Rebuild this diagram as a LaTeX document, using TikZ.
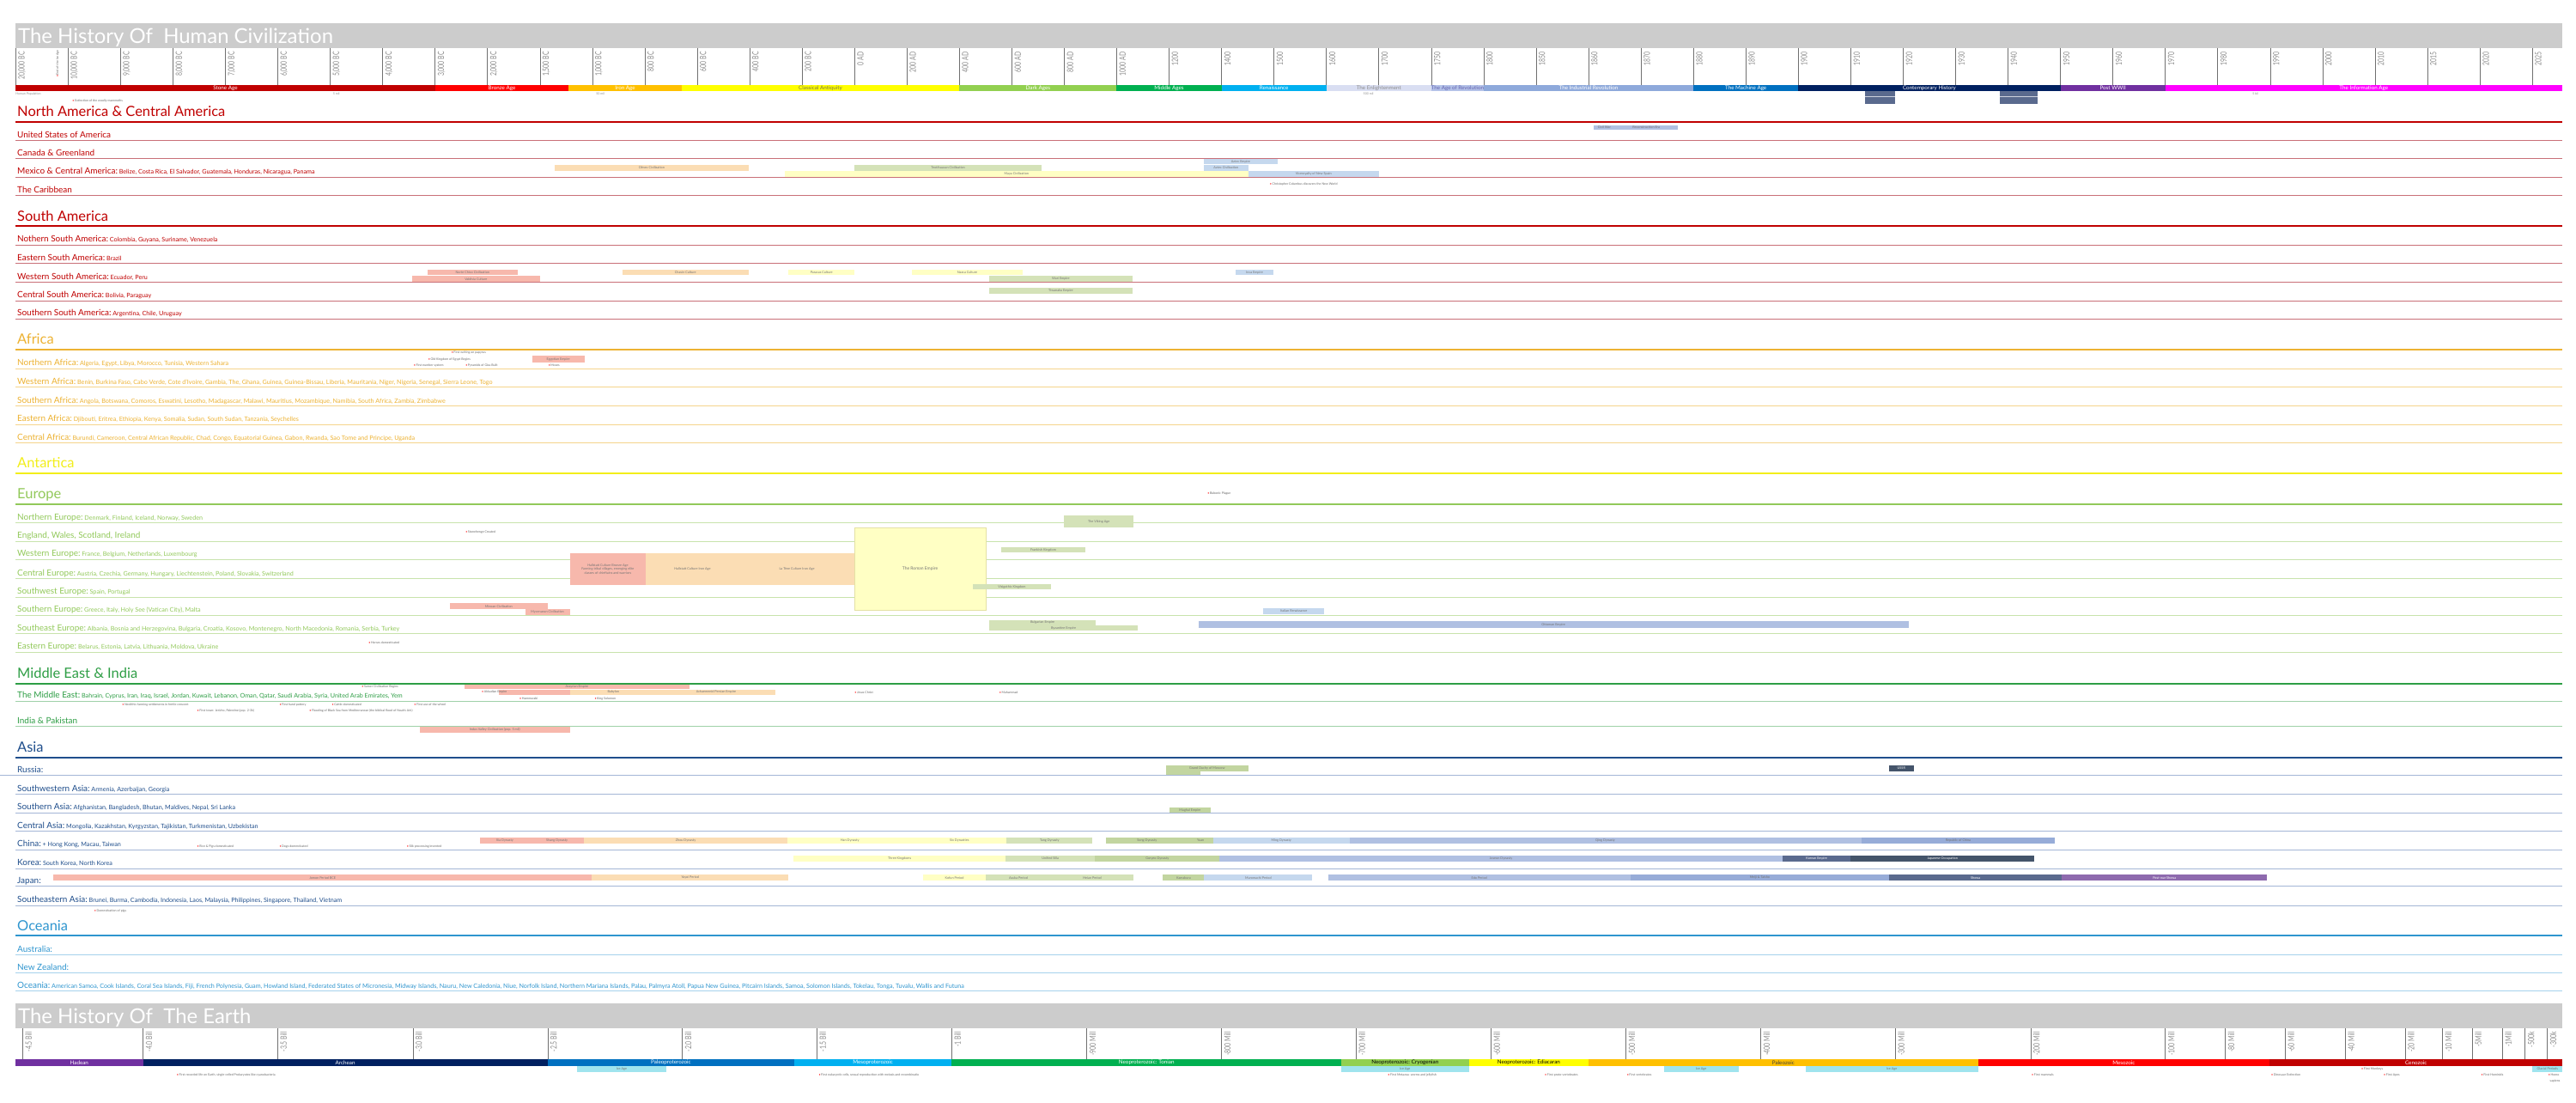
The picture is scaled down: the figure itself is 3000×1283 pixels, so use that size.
\documentclass[tikz,border=0pt]{standalone}
\usepackage{fontspec}
\setmainfont{Lato}
\newfontfamily\tickf[FakeStretch=0.7]{Lato}
\definecolor{bandgray}{HTML}{CCCCCC}
\definecolor{tickgray}{HTML}{707070}
\definecolor{ticktext}{HTML}{8C8C8C}
\definecolor{naC}{HTML}{C00000}
\definecolor{naL}{HTML}{C97078}
\definecolor{afC}{HTML}{EDB232}
\definecolor{afL}{HTML}{F5D48C}
\definecolor{anC}{HTML}{F2EE1A}
\definecolor{euC}{HTML}{92C95A}
\definecolor{euL}{HTML}{C8E3AC}
\definecolor{meC}{HTML}{2E9E45}
\definecolor{meL}{HTML}{9FD1A8}
\definecolor{asC}{HTML}{1F4E8C}
\definecolor{asL}{HTML}{A4B6D6}
\definecolor{ocC}{HTML}{2E95CF}
\definecolor{ocL}{HTML}{A6D2EC}
\definecolor{stoneC}{HTML}{C00000}
\definecolor{bronzeC}{HTML}{FF0000}
\definecolor{ironC}{HTML}{FFC000}
\definecolor{classC}{HTML}{FFFF00}
\definecolor{darkC}{HTML}{92D050}
\definecolor{midC}{HTML}{00B050}
\definecolor{renC}{HTML}{00B0F0}
\definecolor{enlC}{HTML}{D9DEF2}
\definecolor{revC}{HTML}{B4C2E8}
\definecolor{indC}{HTML}{8EA9DB}
\definecolor{machC}{HTML}{0070C0}
\definecolor{contC}{HTML}{002060}
\definecolor{postC}{HTML}{7030A0}
\definecolor{infoC}{HTML}{FF00FF}
\definecolor{iceC}{HTML}{A0E4EE}
\definecolor{bxSalmon}{HTML}{F7B8AC}
\definecolor{bxOrange}{HTML}{FBDDB4}
\definecolor{bxYellow}{HTML}{FFFFC4}
\definecolor{bxGreen}{HTML}{D4E2B8}
\definecolor{bxGreenD}{HTML}{C2D5A0}
\definecolor{bxBlue}{HTML}{C5D8EE}
\definecolor{bxPeri}{HTML}{B0C0E2}
\definecolor{bxPeriD}{HTML}{97ACD8}
\definecolor{bxSlate}{HTML}{5A6A8E}
\definecolor{bxSlateD}{HTML}{44546A}
\definecolor{bxPurple}{HTML}{8E6AAE}
\tikzset{
  ticklab/.style={font=\tickf\fontsize{10}{12}\selectfont, text=ticktext, rotate=90, anchor=north east, inner sep=0},
  eralab/.style={font=\fontsize{6.3}{7}\selectfont, inner sep=0},
  evt/.style={font=\fontsize{3.6}{4}\selectfont, text=black!60, inner sep=0, anchor=west},
  blab/.style={font=\fontsize{3.8}{4.2}\selectfont, text=black!55, inner sep=0, align=center},
  poplab/.style={font=\fontsize{3.6}{4}\selectfont, text=black!45, inner sep=0, anchor=west},
}
\newcommand\rlab{\fontsize{10}{12}\selectfont}
\newcommand\rlist{\fontsize{7.2}{9}\selectfont}
\newcommand\hfont{\fontsize{16.5}{18}\selectfont}
\newcommand\sect[3]{\draw[#2, line width=2] (18.2,#1) -- (2984.2,#1);
  \node[anchor=base west, text=#2, inner sep=0, font=\hfont] at (20,#1-6.3) {#3};}
\newcommand\rowl[5]{\draw[#2, line width=0.9] (18.2,#1) -- (2984.2,#1);
  \node[anchor=base west, text=#3, inner sep=0] at (20,#1-3.2) {\rlab #4\ifx&#5&\else{\rlist\ #5}\fi};}
\newcommand\era[5]{\fill[#3] (#1,98.7) rectangle (#2,106);
  \node[eralab, text=#4] at ({(#1+#2)/2},102.4) {#5};}
\newcommand\bx[6]{\fill[#5] (#1,#3) rectangle (#2,#4);
  \node[blab] at ({(#1+#2)/2},{(#3+#4)/2}) {#6};}
\newcommand\bxw[6]{\fill[#5] (#1,#3) rectangle (#2,#4);
  \node[blab, text=white] at ({(#1+#2)/2},{(#3+#4)/2}) {#6};}
\newcommand\ev[3]{\node[evt] at (#1,#2) {\textcolor{red}{\textbullet}\,#3};}
\newcommand\eera[5]{\fill[#3] (#1,1233.3) rectangle (#2,1240.7);
  \node[eralab, text=#4] at ({(#1+#2)/2},1237) {#5};}
\newcommand\eice[3]{\fill[iceC] (#1,1240.7) rectangle (#2,1247.7);
  \node[blab] at ({(#1+#2)/2},1244.2) {#3};}
\begin{document}
\begin{tikzpicture}[x=1bp,y=-1bp]
\useasboundingbox (0,0) rectangle (3000,1283);
\fill[white] (0,0) rectangle (3000,1283);

% ===== Title band: Human Civilization =====
\fill[bandgray] (18.2,26.7) rectangle (2984.2,55.7);
\node[anchor=base west, inner sep=0, text=white, font=\fontsize{24}{24}\selectfont] (title) at (21,50) {The History Of\ \ Human Civilization};

\begin{scope}[x=61.06bp, xshift=18.2bp]
  \foreach \k in {0,...,48} \draw[tickgray, line width=0.6] (\k,55.7) -- (\k,98.7);
  \foreach \k/\l in {0/{20,000 BC},1/{10,000 BC},2/{9,000 BC},3/{8,000 BC},4/{7,000 BC},5/{6,000 BC},6/{5,000 BC},7/{4,000 BC},8/{3,000 BC},9/{2,000 BC},10/{1,500 BC},11/{1,000 BC},12/{800 BC},13/{600 BC},14/{400 BC},15/{200 BC},16/{0 AD},17/{200 AD},18/{400 AD},19/{600 AD},20/{800 AD},21/{1000 AD},22/1200,23/1400,24/1500,25/1600,26/1700,27/1750,28/1800,29/1850,30/1860,31/1870,32/1880,33/1890,34/1900,35/1910,36/1920,37/1930,38/1940,39/1950,40/1960,41/1970,42/1980,43/1990,44/2000,45/2010,46/2015,47/2020,48/2025}
    \node[ticklab] at ([xshift=3bp]\k,60) {\l};
  \node[evt, rotate=90] at (0.8,90) {\textcolor{red}{\textbullet}\,End of the Ice Age};

  \era{0}{8}{stoneC}{white}{Stone Age}
  \era{8}{10.55}{bronzeC}{white}{Bronze Age}
  \era{10.55}{12.7}{ironC}{white}{Iron Age}
  \era{12.7}{18}{classC}{black!50!yellow!80!black}{Classical Antiquity}
  \era{18}{21}{darkC}{white}{Dark Ages}
  \era{21}{23}{midC}{white}{Middle Ages}
  \era{23}{25}{renC}{white}{Renaissance}
  \era{25}{27}{enlC}{black!45}{The Enlightenment}
  \era{27}{28}{revC}{black!50!blue!60}{The Age of Revolution}
  \era{28}{32}{indC}{white}{The Industrial Revolution}
  \era{32}{34}{machC}{white}{The Machine Age}
  \era{34}{39}{contC}{white}{Contemporary History}
  \era{39}{41}{postC}{white}{Post WWII}
  \era{41}{48.57}{infoC}{white}{The Information Age}

  \node[poplab] at (0,109.5) {Human Population};
  \node[poplab] at (6.05,109.5) {5 mil};
  \node[poplab] at (11.07,109.5) {50 mil};
  \node[poplab] at (25.7,109.5) {500 mil};
  \node[poplab] at (42.66,109.5) {5 bil};
  \ev{1.08}{117}{Extinction of the woolly mammoths}

  \fill[bxSlate] (35.28,106) rectangle (35.85,120.7);
  \draw[white!70!bxSlate, line width=0.8] (35.28,112.3) -- (35.85,112.3);
  \fill[bxSlate] (37.85,106) rectangle (38.57,120.7);
  \draw[white!70!bxSlate, line width=0.8] (37.85,112.3) -- (38.57,112.3);
\end{scope}

% ===== Sections =====
\sect{141.7}{naC}{North America \& Central America}
\rowl{163.3}{naL}{naC}{United States of America}{}
\rowl{184.3}{naL}{naC}{Canada \& Greenland}{}
\rowl{206}{naL}{naC}{Mexico \& Central America:}{Belize, Costa Rica, El Salvador, Guatemala, Honduras, Nicaragua, Panama}
\rowl{227.3}{naL}{naC}{The Caribbean}{}

\sect{263.3}{naC}{South America}
\rowl{285}{naL}{naC}{Nothern South America:}{Colombia, Guyana, Suriname, Venezuela}
\rowl{306.7}{naL}{naC}{Eastern South America:}{Brazil}
\rowl{328.7}{naL}{naC}{Western South America:}{Ecuador, Peru}
\rowl{350}{naL}{naC}{Central South America:}{Bolivia, Paraguay}
\rowl{371}{naL}{naC}{Southern South America:}{Argentina, Chile, Uruguay}

\sect{406.7}{afC}{Africa}
\rowl{429}{afL}{afC}{Northern Africa:}{Algeria, Egypt, Libya, Morocco, Tunisia, Western Sahara}
\rowl{450.7}{afL}{afC}{Western Africa:}{Benin, Burkina Faso, Cabo Verde, Cote d'Ivoire, Gambia, The, Ghana, Guinea, Guinea-Bissau, Liberia, Mauritania, Niger, Nigeria, Senegal, Sierra Leone, Togo}
\rowl{472.3}{afL}{afC}{Southern Africa:}{Angola, Botswana, Comoros, Eswatini, Lesotho, Madagascar, Malawi, Mauritius, Mozambique, Namibia, South Africa, Zambia, Zimbabwe}
\rowl{494}{afL}{afC}{Eastern Africa:}{Djibouti, Eritrea, Ethiopia, Kenya, Somalia, Sudan, South Sudan, Tanzania, Seychelles}
\rowl{515.7}{afL}{afC}{Central Africa:}{Burundi, Cameroon, Central African Republic, Chad, Congo, Equatorial Guinea, Gabon, Rwanda, Sao Tome and Principe, Uganda}

\sect{551}{anC}{Antartica}

\sect{586.7}{euC}{Europe}
\rowl{608.3}{euL}{euC}{Northern Europe:}{Denmark, Finland, Iceland, Norway, Sweden}
\rowl{630}{euL}{euC}{England, Wales, Scotland, Ireland}{}
\rowl{651}{euL}{euC}{Western Europe:}{France, Belgium, Netherlands, Luxembourg}
\rowl{673.3}{euL}{euC}{Central Europe:}{Austria, Czechia, Germany, Hungary, Liechtenstein, Poland, Slovakia, Switzerland}
\rowl{695}{euL}{euC}{Southwest Europe:}{Spain, Portugal}
\rowl{716}{euL}{euC}{Southern Europe:}{Greece, Italy, Holy See (Vatican City), Malta}
\rowl{737.7}{euL}{euC}{Southeast Europe:}{Albania, Bosnia and Herzegovina, Bulgaria, Croatia, Kosovo, Montenegro, North Macedonia, Romania, Serbia, Turkey}
\rowl{759}{euL}{euC}{Eastern Europe:}{Belarus, Estonia, Latvia, Lithuania, Moldova, Ukraine}

\sect{795.7}{meC}{Middle East \& India}
\rowl{816}{meL}{meC}{The Middle East:}{Bahrain, Cyprus, Iran, Iraq, Israel, Jordan, Kuwait, Lebanon, Oman, Qatar, Saudi Arabia, Syria, United Arab Emirates, Yem}
\rowl{845.7}{meL}{meC}{India \& Pakistan}{}

\sect{881.7}{asC}{Asia}
\draw[asL, line width=0.9] (0,902.3) -- (2984.2,902.3);
\node[anchor=base west, text=asC, inner sep=0] at (20,899.1) {\rlab Russia:};
\rowl{924.3}{asL}{asC}{Southwestern Asia:}{Armenia, Azerbaijan, Georgia}
\rowl{946}{asL}{asC}{Southern Asia:}{Afghanistan, Bangladesh, Bhutan, Maldives, Nepal, Sri Lanka}
\rowl{967.3}{asL}{asC}{Central Asia:}{Mongolia, Kazakhstan, Kyrgyzstan, Tajikistan, Turkmenistan, Uzbekistan}
\rowl{989}{asL}{asC}{China:}{+ Hong Kong, Macau, Taiwan}
\rowl{1011}{asL}{asC}{Korea:}{South Korea, North Korea}
\rowl{1031.7}{asL}{asC}{Japan:}{}
\rowl{1054}{asL}{asC}{Southeastern Asia:}{Brunei, Burma, Cambodia, Indonesia, Laos, Malaysia, Philippines, Singapore, Thailand, Vietnam}

\sect{1089.3}{ocC}{Oceania}
\rowl{1111.7}{ocL}{ocC}{Australia:}{}
\rowl{1132.7}{ocL}{ocC}{New Zealand:}{}
\rowl{1153.3}{ocL}{ocC}{Oceania:}{American Samoa, Cook Islands, Coral Sea Islands, Fiji, French Polynesia, Guam, Howland Island, Federated States of Micronesia, Midway Islands, Nauru, New Caledonia, Niue, Norfolk Island, Northern Mariana Islands, Palau, Palmyra Atoll, Papua New Guinea, Pitcairn Islands, Samoa, Solomon Islands, Tokelau, Tonga, Tuvalu, Wallis and Futuna}

% ===== Events =====
\begin{scope}[x=61.06bp, xshift=18.2bp]
  % USA
  \bx{30.1}{30.5}{146}{151}{bxPeri}{Civil War}
  \bx{30.5}{31.7}{146}{151}{bxPeri}{Reconstruction Era}
  % Mexico
  \bx{22.66}{24.07}{184.6}{191.3}{bxBlue}{Aztec Empire}
  \bx{10.28}{13.98}{191.7}{199.3}{bxOrange}{Olmec Civilization}
  \bx{16.0}{19.57}{191.7}{199.3}{bxGreen}{Teotihuacan Civilization}
  \bx{22.66}{23.51}{191.7}{199.3}{bxBlue}{Aztec Civilization}
  \bx{14.67}{23.51}{199.3}{205.5}{bxYellow}{Maya Civilization}
  \bx{23.51}{26.0}{199.3}{205.5}{bxBlue}{Viceroyalty of New Spain}
  % Caribbean
  \ev{23.92}{214}{Christopher Columbus discovers the New World}
  % Western South America
  \bx{7.85}{9.58}{313.7}{320.3}{bxSalmon}{Norte Chico Civilization}
  \bx{7.56}{10.0}{321}{328.3}{bxSalmon}{Valdivia Culture}
  \bx{11.57}{13.98}{313.7}{320.3}{bxOrange}{Chavin Culture}
  \bx{14.74}{16.0}{313.7}{320.3}{bxYellow}{Paracas Culture}
  \bx{17.1}{19.2}{313.7}{320.3}{bxYellow}{Nazca Culture}
  \bx{23.27}{23.99}{313.7}{320.3}{bxBlue}{Inca Empire}
  \bx{18.57}{21.3}{321}{328.3}{bxGreen}{Wari Empire}
  % Central South America
  \bx{18.57}{21.3}{335}{342}{bxGreen}{Tiwanaku Empire}
  % Northern Africa
  \ev{8.31}{411}{First writing on papyrus}
  \ev{7.87}{418.3}{Old Kingdom of Egypt Begins}
  \ev{7.59}{425.3}{First number system}
  \ev{8.58}{425.3}{Pyramids of Giza Built}
  \bx{9.85}{10.85}{414.3}{421.7}{bxSalmon}{Egyptian Empire}
  \ev{10.16}{425.3}{Moses}
  % Europe
  \ev{22.73}{574}{Bubonic Plague}
  \ev{8.58}{619.3}{Stonehenge Created}
  \bx{18.8}{20.4}{637}{643}{bxGreen}{Frankish Kingdom}
  \bx{10.57}{12.02}{644.3}{680.7}{bxSalmon}{Hallstatt Culture Bronze Age\\Farming tribal villages, emerging elite\\classes of chieftains and warriors}
  \bx{12.02}{13.8}{644.3}{680.7}{bxOrange}{Hallstatt Culture Iron Age}
  \bx{13.8}{16.0}{644.3}{680.7}{bxOrange}{La T\`ene Culture Iron Age}
  \fill[bxYellow] (16.0,614) rectangle (18.5,710);
  \draw[yellow!70!black!40, line width=0.5] (16.0,614) rectangle (18.5,710);
  \node[blab, font=\fontsize{5}{6}\selectfont] at (17.25,662) {The Roman Empire};
  \bx{20.0}{21.32}{600}{614}{bxGreen}{The Viking Age}
  \bx{18.25}{19.75}{680}{686}{bxGreen}{Visigothic Kingdom}
  \bx{8.28}{10.15}{702.3}{709}{bxSalmon}{Minoan Civilization}
  \bx{9.72}{10.57}{709}{715.7}{bxSalmon}{Mycenaean Civilization}
  \bx{23.8}{24.96}{708}{715}{bxBlue}{Italian Renaissance}
  \bx{18.57}{20.6}{722}{727.5}{bxGreen}{Bulgarian Empire}
  \bx{18.57}{21.4}{728}{734}{bxGreen}{Byzantine Empire}
  \bx{22.56}{36.1}{723}{731}{bxPeri}{Ottoman Empire}
  \ev{6.73}{748.3}{Horses domesticated}
  % Middle East
  \ev{6.6}{799}{Sumer Civilization Begins}
  \bx{8.56}{12.85}{796.7}{802.3}{bxSalmon}{Assyrian Empire}
  \fill[bxSalmon] (9.22,802.7) rectangle (10.57,808.7);
  \bx{10.57}{12.23}{802.7}{808.7}{bxOrange}{Babylon}
  \bx{12.23}{14.49}{802.7}{808.7}{bxOrange}{Achaemenid Persian Empire}
  \ev{8.89}{805.7}{Akkadian Empire}
  \ev{16.0}{805.7}{Jesus Christ}
  \ev{18.76}{805.7}{Muhammad}
  \ev{9.61}{813.3}{Hammurabi}
  \ev{11.04}{813.3}{King Solomon}
  \ev{2.03}{820.3}{Neolithic farming settlements in fertile crescent}
  \ev{5.03}{820.3}{First hand pottery}
  \ev{6.03}{820.3}{Cattle domesticated}
  \ev{7.6}{820.3}{First use of the wheel}
  \ev{3.46}{827.3}{First town: Jericho, Palestine (pop. 2-3k)}
  \ev{5.6}{827.3}{Flooding of Black Sea from Mediterranean (the biblical flood of Noah's Ark)}
  % India
  \bx{7.71}{10.57}{845.7}{852.7}{bxSalmon}{Indus Valley Civilization (pop. 5 mil)}
  % Russia
  \bx{21.94}{23.51}{891}{897.5}{bxGreenD}{Grand Duchy of Moscow}
  \bx{21.94}{22.6}{897.5}{902}{bxGreenD}{}
  \bxw{35.73}{36.2}{891}{897.5}{bxSlateD}{USSR}
  % Southern Asia
  \bx{22.0}{22.8}{940}{946}{bxGreenD}{Mughal Empire}
  % China
  \ev{3.46}{985.7}{Rice \& Pigs domesticated}
  \ev{5.03}{985.7}{Dogs domesticated}
  \ev{7.46}{985.7}{Silk processing invented}
  \bx{8.85}{9.81}{975}{981.7}{bxSalmon}{Xia Dynasty}
  \bx{9.81}{10.84}{975}{981.7}{bxSalmon}{Shang Dynasty}
  \bx{10.84}{14.72}{975}{981.7}{bxOrange}{Zhou Dynasty}
  \bx{14.72}{17.1}{975}{981.7}{bxYellow}{Han Dynasty}
  \bx{17.1}{18.9}{975}{981.7}{bxYellow}{Six Dynasties}
  \bx{18.9}{20.54}{975}{981.7}{bxGreen}{Tang Dynasty}
  \bx{20.8}{22.36}{975}{981.7}{bxGreenD}{Song Dynasty}
  \bx{22.36}{22.84}{975}{981.7}{bxGreenD}{Yuan}
  \bx{22.84}{25.44}{975}{981.7}{bxBlue}{Ming Dynasty}
  \bx{25.44}{35.2}{975}{981.7}{bxPeri}{Qing Dynasty}
  \bx{35.2}{38.9}{975}{981.7}{bxPeriD}{Republic of China}
  % Korea
  \bx{14.84}{18.88}{996}{1003}{bxYellow}{Three Kingdoms}
  \bx{18.88}{20.59}{996}{1003}{bxGreen}{Unified Silla}
  \bx{20.59}{22.96}{996}{1003}{bxGreenD}{Goryeo Dynasty}
  \bx{22.96}{33.7}{996}{1003}{bxPeri}{Joseon Dynasty}
  \bxw{33.7}{35.0}{996}{1003}{bxSlate}{Korean Empire}
  \bxw{35.0}{38.5}{996}{1003}{bxSlateD}{Japanese Occupation}
  % Japan
  \bx{0.72}{10.99}{1018.3}{1025}{bxSalmon}{Jomon Period BCE}
  \bx{10.99}{14.74}{1018.3}{1025}{bxOrange}{Yayoi Period}
  \bx{17.31}{18.5}{1018.3}{1025}{bxYellow}{Kofun Period}
  \bx{18.5}{19.75}{1018.3}{1025}{bxGreen}{Asuka Period}
  \bx{19.75}{21.32}{1018.3}{1025}{bxGreen}{Heian Period}
  \bx{21.88}{22.67}{1018.3}{1025}{bxGreenD}{Kamakura}
  \bx{22.67}{24.73}{1018.3}{1025}{bxBlue}{Muromachi Period}
  \bx{25.03}{30.8}{1018.3}{1025}{bxPeri}{Edo Period}
  \bx{30.8}{35.73}{1018.3}{1025}{bxPeriD}{Meiji \& Taisho}
  \bxw{35.73}{39.03}{1018.3}{1025}{bxSlate}{Showa}
  \bxw{39.03}{42.94}{1018.3}{1025}{bxPurple}{Post-war Showa}
  % SE Asia
  \ev{1.5}{1060}{Domestication of pigs}
\end{scope}

% ===== Earth =====
\fill[bandgray] (18.2,1168.3) rectangle (2984.2,1197.3);
\node[anchor=base west, inner sep=0, text=white, font=\fontsize{24}{24}\selectfont] (etitle) at (21,1191.5) {The History Of\ \ The Earth};
\foreach \x/\l in {26.3/{-4.5 Bill},166.5/{-4.0 Bill},323.4/{-3.5 Bill},480.8/{-3.0 Bill},637.8/{-2.5 Bill},794.5/{-2.0 Bill},951.4/{-1.5 Bill},1108.3/{-1 Bill},1265.6/{-900 Mill},1422.5/{-800 Mill},1579.4/{-700 Mill},1736.3/{-600 Mill},1893.6/{-500 Mill},2050.5/{-400 Mill},2207.4/{-300 Mill},2364.8/{-200 Mill},2521.7/{-100 Mill},2591.5/{-80 Mill},2661.3/{-60 Mill},2731.2/{-40 Mill},2801/{-20 Mill},2844.5/{-10 Mill},2879.4/{-5Mill},2914.4/{-1Mill},2940.7/{-500k},2966.5/{-300k}}
{ \draw[tickgray, line width=0.6] (\x,1197.3) -- (\x,1233.3);
  \node[ticklab] at (\x+3,1200.7) {\l}; }
\eera{18.2}{166.5}{postC}{white}{Hadean}
\eera{166.5}{637.8}{contC}{white}{Archean}
\eera{637.8}{925}{machC}{white}{Paleoproterozoic}
\eera{925}{1108.3}{renC}{white}{Mesoproterozoic}
\eera{1108.3}{1562.2}{midC}{white}{Neoproterozoic: Tonian}
\eera{1562.2}{1710.5}{darkC}{black}{Neoproterozoic: Cryogenian}
\eera{1710.5}{1850.2}{classC}{black}{Neoproterozoic: Ediacaran}
\eera{1850.2}{2303.6}{ironC}{black!75}{Paleozoic}
\eera{2303.6}{2643.2}{bronzeC}{white}{Mesozoic}
\eera{2643.2}{2984.2}{stoneC}{white}{Cenozoic}
\eice{672}{776}{Ice Age}
\eice{1562.2}{1710.5}{Ice Age}
\eice{1937.7}{2024.7}{Ice Age}
\eice{2102.9}{2303.6}{Ice Age}
\eice{2949.3}{2984.2}{Glacial Periods}
\node[evt] at (205.7,1251) {\textcolor{red}{\textbullet}\,First recorded life on Earth, single-celled Prokaryotes like cyanobacteria};
\node[evt] at (953.3,1251) {\textcolor{red}{\textbullet}\,First eukaryotic cells, sexual reproduction with meiosis and recombinatio};
\node[evt] at (1616.2,1251) {\textcolor{red}{\textbullet}\,First Metazoa: worms and jellyfish};
\node[evt] at (1799,1251) {\textcolor{red}{\textbullet}\,First proto-vertebrates};
\node[evt] at (1894.6,1251) {\textcolor{red}{\textbullet}\,First vertebrates};
\node[evt] at (2366,1251) {\textcolor{red}{\textbullet}\,First mammals};
\node[evt] at (2645,1251) {\textcolor{red}{\textbullet}\,Dinosaur Extinction};
\node[evt] at (2750,1244) {\textcolor{red}{\textbullet}\,First Monkeys};
\node[evt] at (2776,1251) {\textcolor{red}{\textbullet}\,First Apes};
\node[evt] at (2889.5,1251) {\textcolor{red}{\textbullet}\,First Hominids};
\node[evt] at (2967.7,1251) {\textcolor{red}{\textbullet}\,Homo};
\node[evt] at (2969.5,1258) {sapiens};
\end{tikzpicture}
\end{document}
